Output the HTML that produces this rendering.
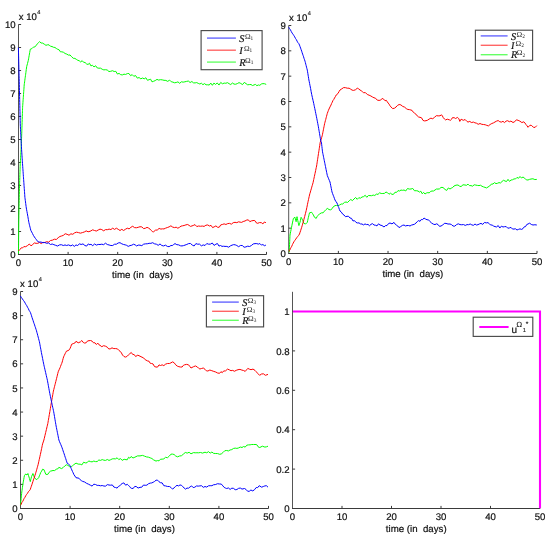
<!DOCTYPE html>
<html><head><meta charset="utf-8"><title>SIR figure</title>
<style>
html,body{margin:0;padding:0;background:#fff;}
svg{display:block;}
text{text-rendering:geometricPrecision;}
text{font-family:"Liberation Sans", Arial, Helvetica, sans-serif;font-size:9.6px;fill:#111;stroke:#111;stroke-width:0.2px;}
text.lg{font-family:"Liberation Serif", "Times New Roman", serif;font-style:italic;font-size:10.3px;}
text.om{font-family:"Liberation Serif", "Times New Roman", serif;font-size:7.6px;stroke-width:0;fill:#222;}
text.sb{font-family:"Liberation Serif", "Times New Roman", serif;font-size:5.3px;stroke-width:0;fill:#222;}
</style></head>
<body>
<svg width="550" height="539" viewBox="0 0 550 539">
<rect width="550" height="539" fill="#fff"/>
<path d="M18.5,24.5 V254.5" stroke="#555" stroke-width="1" fill="none"/>
<path d="M18,254.5 H266.5" stroke="#3a3a3a" stroke-width="1" fill="none"/>
<text x="15.6" y="258.1" text-anchor="end">0</text>
<path d="M18.5,231.5 h2.6" stroke="#3a3a3a" stroke-width="1"/>
<text x="15.6" y="235.1" text-anchor="end">1</text>
<path d="M18.5,208.5 h2.6" stroke="#3a3a3a" stroke-width="1"/>
<text x="15.6" y="212.1" text-anchor="end">2</text>
<path d="M18.5,185.5 h2.6" stroke="#3a3a3a" stroke-width="1"/>
<text x="15.6" y="189.1" text-anchor="end">3</text>
<path d="M18.5,162.5 h2.6" stroke="#3a3a3a" stroke-width="1"/>
<text x="15.6" y="166.1" text-anchor="end">4</text>
<path d="M18.5,139.5 h2.6" stroke="#3a3a3a" stroke-width="1"/>
<text x="15.6" y="143.1" text-anchor="end">5</text>
<path d="M18.5,116.5 h2.6" stroke="#3a3a3a" stroke-width="1"/>
<text x="15.6" y="120.1" text-anchor="end">6</text>
<path d="M18.5,93.5 h2.6" stroke="#3a3a3a" stroke-width="1"/>
<text x="15.6" y="97.1" text-anchor="end">7</text>
<path d="M18.5,70.5 h2.6" stroke="#3a3a3a" stroke-width="1"/>
<text x="15.6" y="74.1" text-anchor="end">8</text>
<path d="M18.5,47.5 h2.6" stroke="#3a3a3a" stroke-width="1"/>
<text x="15.6" y="51.1" text-anchor="end">9</text>
<path d="M18.5,24.5 h2.6" stroke="#3a3a3a" stroke-width="1"/>
<text x="15.6" y="28.1" text-anchor="end">10</text>
<text x="18.5" y="266.3" text-anchor="middle">0</text>
<path d="M68.1,254.5 v-2.6" stroke="#3a3a3a" stroke-width="1"/>
<text x="68.1" y="266.3" text-anchor="middle">10</text>
<path d="M117.7,254.5 v-2.6" stroke="#3a3a3a" stroke-width="1"/>
<text x="117.7" y="266.3" text-anchor="middle">20</text>
<path d="M167.3,254.5 v-2.6" stroke="#3a3a3a" stroke-width="1"/>
<text x="167.3" y="266.3" text-anchor="middle">30</text>
<path d="M216.9,254.5 v-2.6" stroke="#3a3a3a" stroke-width="1"/>
<text x="216.9" y="266.3" text-anchor="middle">40</text>
<path d="M266.5,254.5 v-2.6" stroke="#3a3a3a" stroke-width="1"/>
<text x="266.5" y="266.3" text-anchor="middle">50</text>
<text x="142.5" y="277.7" text-anchor="middle" textLength="60.8" lengthAdjust="spacingAndGlyphs" xml:space="preserve">time (in  days)</text>
<text x="18.7" y="20.3">x 10<tspan font-size="5.6" dy="-6.4" dx="0.4" stroke-width="0.1">4</tspan></text>
<path d="M288.7,25.5 V253.5" stroke="#555" stroke-width="1" fill="none"/>
<path d="M288.2,253.5 H537" stroke="#3a3a3a" stroke-width="1" fill="none"/>
<text x="285.8" y="257.1" text-anchor="end">0</text>
<path d="M288.7,228.17 h2.6" stroke="#3a3a3a" stroke-width="1"/>
<text x="285.8" y="231.77" text-anchor="end">1</text>
<path d="M288.7,202.83 h2.6" stroke="#3a3a3a" stroke-width="1"/>
<text x="285.8" y="206.43" text-anchor="end">2</text>
<path d="M288.7,177.5 h2.6" stroke="#3a3a3a" stroke-width="1"/>
<text x="285.8" y="181.1" text-anchor="end">3</text>
<path d="M288.7,152.17 h2.6" stroke="#3a3a3a" stroke-width="1"/>
<text x="285.8" y="155.77" text-anchor="end">4</text>
<path d="M288.7,126.83 h2.6" stroke="#3a3a3a" stroke-width="1"/>
<text x="285.8" y="130.43" text-anchor="end">5</text>
<path d="M288.7,101.5 h2.6" stroke="#3a3a3a" stroke-width="1"/>
<text x="285.8" y="105.1" text-anchor="end">6</text>
<path d="M288.7,76.17 h2.6" stroke="#3a3a3a" stroke-width="1"/>
<text x="285.8" y="79.77" text-anchor="end">7</text>
<path d="M288.7,50.83 h2.6" stroke="#3a3a3a" stroke-width="1"/>
<text x="285.8" y="54.43" text-anchor="end">8</text>
<path d="M288.7,25.5 h2.6" stroke="#3a3a3a" stroke-width="1"/>
<text x="285.8" y="29.1" text-anchor="end">9</text>
<text x="288.7" y="265.3" text-anchor="middle">0</text>
<path d="M338.36,253.5 v-2.6" stroke="#3a3a3a" stroke-width="1"/>
<text x="338.36" y="265.3" text-anchor="middle">10</text>
<path d="M388.02,253.5 v-2.6" stroke="#3a3a3a" stroke-width="1"/>
<text x="388.02" y="265.3" text-anchor="middle">20</text>
<path d="M437.68,253.5 v-2.6" stroke="#3a3a3a" stroke-width="1"/>
<text x="437.68" y="265.3" text-anchor="middle">30</text>
<path d="M487.34,253.5 v-2.6" stroke="#3a3a3a" stroke-width="1"/>
<text x="487.34" y="265.3" text-anchor="middle">40</text>
<path d="M537,253.5 v-2.6" stroke="#3a3a3a" stroke-width="1"/>
<text x="537" y="265.3" text-anchor="middle">50</text>
<text x="412.85" y="276.7" text-anchor="middle" textLength="60.8" lengthAdjust="spacingAndGlyphs" xml:space="preserve">time (in  days)</text>
<text x="289.1" y="21.3">x 10<tspan font-size="5.6" dy="-6.4" dx="0.4" stroke-width="0.1">4</tspan></text>
<path d="M20.5,291.5 V508.5" stroke="#555" stroke-width="1" fill="none"/>
<path d="M20,508.5 H268.5" stroke="#3a3a3a" stroke-width="1" fill="none"/>
<text x="17.6" y="512.1" text-anchor="end">0</text>
<path d="M20.5,484.39 h2.6" stroke="#3a3a3a" stroke-width="1"/>
<text x="17.6" y="487.99" text-anchor="end">1</text>
<path d="M20.5,460.28 h2.6" stroke="#3a3a3a" stroke-width="1"/>
<text x="17.6" y="463.88" text-anchor="end">2</text>
<path d="M20.5,436.17 h2.6" stroke="#3a3a3a" stroke-width="1"/>
<text x="17.6" y="439.77" text-anchor="end">3</text>
<path d="M20.5,412.06 h2.6" stroke="#3a3a3a" stroke-width="1"/>
<text x="17.6" y="415.66" text-anchor="end">4</text>
<path d="M20.5,387.94 h2.6" stroke="#3a3a3a" stroke-width="1"/>
<text x="17.6" y="391.54" text-anchor="end">5</text>
<path d="M20.5,363.83 h2.6" stroke="#3a3a3a" stroke-width="1"/>
<text x="17.6" y="367.43" text-anchor="end">6</text>
<path d="M20.5,339.72 h2.6" stroke="#3a3a3a" stroke-width="1"/>
<text x="17.6" y="343.32" text-anchor="end">7</text>
<path d="M20.5,315.61 h2.6" stroke="#3a3a3a" stroke-width="1"/>
<text x="17.6" y="319.21" text-anchor="end">8</text>
<path d="M20.5,291.5 h2.6" stroke="#3a3a3a" stroke-width="1"/>
<text x="17.6" y="295.1" text-anchor="end">9</text>
<text x="20.5" y="520.3" text-anchor="middle">0</text>
<path d="M70.1,508.5 v-2.6" stroke="#3a3a3a" stroke-width="1"/>
<text x="70.1" y="520.3" text-anchor="middle">10</text>
<path d="M119.7,508.5 v-2.6" stroke="#3a3a3a" stroke-width="1"/>
<text x="119.7" y="520.3" text-anchor="middle">20</text>
<path d="M169.3,508.5 v-2.6" stroke="#3a3a3a" stroke-width="1"/>
<text x="169.3" y="520.3" text-anchor="middle">30</text>
<path d="M218.9,508.5 v-2.6" stroke="#3a3a3a" stroke-width="1"/>
<text x="218.9" y="520.3" text-anchor="middle">40</text>
<path d="M268.5,508.5 v-2.6" stroke="#3a3a3a" stroke-width="1"/>
<text x="268.5" y="520.3" text-anchor="middle">50</text>
<text x="144.5" y="531.7" text-anchor="middle" textLength="60.8" lengthAdjust="spacingAndGlyphs" xml:space="preserve">time (in  days)</text>
<text x="20.1" y="287.3">x 10<tspan font-size="5.6" dy="-6.4" dx="0.4" stroke-width="0.1">4</tspan></text>
<path d="M292.5,291.8 V508.5" stroke="#555" stroke-width="1" fill="none"/>
<path d="M292,508.5 H540" stroke="#3a3a3a" stroke-width="1" fill="none"/>
<text x="289.6" y="512.1" text-anchor="end">0</text>
<path d="M292.5,469.1 h2.6" stroke="#3a3a3a" stroke-width="1"/>
<text x="289.6" y="472.7" text-anchor="end">0.2</text>
<path d="M292.5,429.7 h2.6" stroke="#3a3a3a" stroke-width="1"/>
<text x="289.6" y="433.3" text-anchor="end">0.4</text>
<path d="M292.5,390.3 h2.6" stroke="#3a3a3a" stroke-width="1"/>
<text x="289.6" y="393.9" text-anchor="end">0.6</text>
<path d="M292.5,350.9 h2.6" stroke="#3a3a3a" stroke-width="1"/>
<text x="289.6" y="354.5" text-anchor="end">0.8</text>
<path d="M292.5,311.5 h2.6" stroke="#3a3a3a" stroke-width="1"/>
<text x="289.6" y="315.1" text-anchor="end">1</text>
<text x="292.5" y="520.3" text-anchor="middle">0</text>
<path d="M342,508.5 v-2.6" stroke="#3a3a3a" stroke-width="1"/>
<text x="342" y="520.3" text-anchor="middle">10</text>
<path d="M391.5,508.5 v-2.6" stroke="#3a3a3a" stroke-width="1"/>
<text x="391.5" y="520.3" text-anchor="middle">20</text>
<path d="M441,508.5 v-2.6" stroke="#3a3a3a" stroke-width="1"/>
<text x="441" y="520.3" text-anchor="middle">30</text>
<path d="M490.5,508.5 v-2.6" stroke="#3a3a3a" stroke-width="1"/>
<text x="490.5" y="520.3" text-anchor="middle">40</text>
<path d="M540,508.5 v-2.6" stroke="#3a3a3a" stroke-width="1"/>
<text x="540" y="520.3" text-anchor="middle">50</text>
<text x="416.25" y="531.7" text-anchor="middle" textLength="60.8" lengthAdjust="spacingAndGlyphs" xml:space="preserve">time (in  days)</text>
<path d="M18.5,253.6 L18.51,252.07 L18.53,250.55 L18.54,249.02 L18.55,247.49 L18.57,245.96 L18.58,244.44 L18.6,242.91 L18.61,241.38 L18.62,239.85 L18.64,238.33 L18.65,236.8 L18.66,235.27 L18.68,233.75 L18.69,232.22 L18.7,230.69 L18.72,229.16 L18.73,227.64 L18.75,226.11 L18.76,224.58 L18.77,223.05 L18.79,221.53 L18.8,220 L18.83,218.5 L18.86,217 L18.89,215.5 L18.92,214 L18.95,212.5 L18.98,211 L19.01,209.5 L19.04,208 L19.07,206.5 L19.1,205 L19.13,203.5 L19.16,202 L19.19,200.5 L19.22,199 L19.25,197.5 L19.28,196 L19.31,194.5 L19.34,193 L19.37,191.5 L19.4,190 L19.45,188.44 L19.5,186.87 L19.55,185.31 L19.6,183.75 L19.65,182.19 L19.7,180.63 L19.75,179.06 L19.8,177.5 L19.85,175.94 L19.9,174.37 L19.95,172.81 L20,171.25 L20.05,169.69 L20.1,168.13 L20.15,166.56 L20.2,165 L20.28,163.46 L20.37,161.92 L20.45,160.39 L20.54,158.84 L20.62,157.31 L20.71,155.77 L20.79,154.23 L20.88,152.69 L20.96,151.16 L21.05,149.61 L21.13,148.07 L21.22,146.54 L21.3,145 L21.36,143.35 L21.43,141.7 L21.49,140.05 L21.55,138.4 L21.61,136.75 L21.68,135.1 L21.74,133.45 L21.8,131.8 L21.85,130.27 L21.9,128.74 L21.95,127.21 L22,125.68 L22.05,124.14 L22.1,122.61 L22.15,121.08 L22.2,119.55 L22.25,118.02 L22.3,116.49 L22.35,114.96 L22.4,113.42 L22.45,111.89 L22.5,110.36 L22.55,108.83 L22.6,107.3 L22.71,105.7 L22.83,104.09 L22.94,102.51 L23.06,100.9 L23.17,99.3 L23.29,97.7 L23.4,96.1 L23.51,94.5 L23.63,92.91 L23.74,91.3 L23.86,89.7 L23.97,88.1 L24.09,86.5 L24.2,84.9 L24.41,83.39 L24.62,81.85 L24.82,80.29 L25.03,78.75 L25.24,77.24 L25.45,75.7 L25.66,74.16 L25.87,72.66 L26.07,71.08 L26.28,69.59 L26.49,68.01 L26.7,66.5 L27.1,65.02 L27.5,63.5 L27.9,61.96 L28.3,60.4 L28.59,58.8 L28.87,57.2 L29.16,55.61 L29.44,53.99 L29.73,52.41 L30.01,50.81 L30.3,49.2 L31.85,48.65 L33.4,47.1 L34.9,46.93 L36.4,45.1 L37.43,43.78 L38.47,42.67 L39.5,41.6 L41.05,43.01 L42.6,43.1 L44.27,44.16 L45.93,45.31 L47.6,44.8 L49.07,44.85 L50.53,46.3 L52,46.5 L53.47,47.28 L54.93,47.47 L56.4,48.5 L57.75,49.32 L59.1,49.81 L60.45,51.85 L61.8,51.8 L63.45,52.25 L65.1,53.51 L66.75,54.09 L68.4,55.1 L70.03,54.97 L71.65,56.74 L73.28,58.3 L74.9,58.4 L76.35,59.35 L77.8,60.31 L79.25,60.78 L80.7,61.97 L82.15,60.65 L83.6,62.3 L85.07,62.49 L86.53,63.91 L88,64.47 L89.47,63.22 L90.93,65.88 L92.4,65.3 L94.03,66.89 L95.65,65.75 L97.28,67.96 L98.9,68.2 L100.55,68.16 L102.2,69.26 L103.85,69.9 L105.5,69.7 L107.24,70.01 L108.98,71.57 L110.72,71.28 L112.46,70.71 L114.2,71.5 L115.83,71.33 L117.45,74.07 L119.08,73.37 L120.7,74.7 L122.35,74.92 L124,74.17 L125.65,74.43 L127.3,73.6 L128.93,73.47 L130.55,75.7 L132.18,74.62 L133.8,76.3 L135.56,75.54 L137.32,78.14 L139.08,77.56 L140.84,78.82 L142.6,78 L144.22,78.82 L145.85,77.75 L147.47,80.3 L149.1,79.7 L150.57,79.2 L152.03,81.83 L153.5,81.3 L155.23,80.59 L156.97,79.36 L158.7,80.1 L160.47,79.66 L162.23,79.87 L164,80.3 L165.87,80.43 L167.73,81.37 L169.6,80.1 L171.25,81.76 L172.9,82.11 L174.55,82.77 L176.2,82.5 L177.94,81.87 L179.68,83.3 L181.42,81.8 L183.16,82.15 L184.9,81.8 L186.64,81.37 L188.38,81.06 L190.12,82.53 L191.86,81.5 L193.6,82.9 L195.16,82.88 L196.71,82.59 L198.27,83.37 L199.83,83.99 L201.39,83.23 L202.94,84.7 L204.5,83.6 L206.07,84.81 L207.64,84.78 L209.21,85.05 L210.79,83.07 L212.36,85.31 L213.93,83.09 L215.5,84.4 L217.24,82.97 L218.98,85.05 L220.72,82.45 L222.46,83.76 L224.2,83.1 L225.84,83.25 L227.47,82.66 L229.11,83.69 L230.75,84.55 L232.39,83.03 L234.03,84.09 L235.66,84.22 L237.3,83.6 L239.04,82.61 L240.78,83.45 L242.52,84.62 L244.26,82.4 L246,83.6 L247.67,84.82 L249.33,84.57 L251,84.5 L252.47,85.54 L253.95,84.98 L255.42,84.42 L256.9,85.7 L258.37,84.95 L259.83,85.35 L261.3,84 L262.93,83.61 L264.57,83.76 L266.2,84.4" stroke="#00ff00" stroke-width="1.0" fill="none" stroke-linejoin="round"/>
<path d="M18.5,251 L20,249.4 L21.27,247.8 L22.53,247.98 L23.8,246.6 L25.7,246.71 L27.6,245.5 L29.3,244.01 L31,245.87 L32.7,244.5 L34.4,242.96 L36.1,243.35 L37.8,243.3 L39.5,242.47 L41.2,243.57 L42.9,242.4 L44.8,242.51 L46.7,241.7 L48.6,242.15 L50.5,240.5 L52.45,240.16 L54.4,239.2 L56.3,239.49 L58.2,237.7 L59.9,236.49 L61.6,235.97 L63.3,235.4 L65.2,233.74 L67.1,234.3 L69,235.23 L70.9,233.8 L72.8,234.27 L74.7,232.8 L76.6,232.17 L78.5,232.6 L80.45,233.17 L82.4,232.6 L84.3,231.98 L86.2,230.9 L88.1,231.78 L90,231.3 L90.9,230.9 L92.7,229.82 L94.5,230.5 L96.35,231.04 L98.2,230 L100,229.11 L101.8,229.6 L103.65,230.8 L105.5,229.6 L107.3,229.7 L109.1,229.1 L110.9,229.57 L112.7,228.2 L114.55,229.4 L116.4,228.2 L118.2,229.32 L120,230.5 L121.8,229.3 L123.6,230.5 L125.45,229.26 L127.3,228.2 L129.1,228.88 L130.9,227.3 L132.7,226.26 L134.5,227.6 L136.35,227.77 L138.2,227.3 L140,226.73 L141.8,226.9 L143.65,228.62 L145.5,228.2 L147,227.35 L148.5,228.04 L150,229.1 L151.2,230.3 L152.4,231.67 L153.6,231.8 L155.45,230.18 L157.3,230 L159.1,228.42 L160.9,229.1 L162.43,228.83 L163.97,228.94 L165.5,228.2 L167.3,227.54 L169.1,226.89 L170.9,225.8 L172.7,227.1 L174.5,227.6 L176.17,227.2 L177.83,228.21 L179.5,227.3 L181.03,226.13 L182.57,225.81 L184.1,225.5 L185.9,224.87 L187.7,224.5 L189.1,225.4 L190.5,226.4 L193.2,225.5 L195,224.61 L196.8,226.58 L198.6,226 L200.43,226.28 L202.27,226.04 L204.1,226.4 L205.9,225.24 L207.7,224.94 L209.5,226 L211.03,225.33 L212.57,227.58 L214.1,226.9 L215.9,225.91 L217.7,227.3 L219.23,227.24 L220.77,224.88 L222.3,224.5 L224.1,223.86 L225.9,224.48 L227.7,223.6 L229.53,223.37 L231.37,224.17 L233.2,222.7 L235,222.31 L236.8,222.65 L238.6,221.8 L240.13,222.15 L241.67,222.36 L243.2,221.5 L245,220.99 L246.8,220 L248.33,219.86 L249.87,221.68 L251.4,220.9 L254.1,220.4 L255.3,221.09 L256.5,223.06 L257.7,223.3 L259.55,222.57 L261.4,222.7 L262.9,223.9 L264.4,221.97 L265.9,222.7" stroke="#ff0000" stroke-width="1.0" fill="none" stroke-linejoin="round"/>
<path d="M18.4,47.7 L18.44,49.24 L18.48,50.78 L18.51,52.31 L18.55,53.85 L18.59,55.39 L18.63,56.93 L18.67,58.47 L18.7,60 L18.74,61.54 L18.78,63.08 L18.82,64.62 L18.86,66.16 L18.9,67.7 L18.93,69.23 L18.97,70.77 L19.01,72.31 L19.05,73.85 L19.09,75.38 L19.12,76.92 L19.16,78.46 L19.2,80 L19.24,81.5 L19.27,83 L19.31,84.5 L19.35,86 L19.38,87.5 L19.42,89 L19.46,90.5 L19.49,92 L19.53,93.5 L19.57,95 L19.6,96.5 L19.64,98 L19.68,99.5 L19.71,101 L19.75,102.5 L19.79,104 L19.82,105.5 L19.86,107 L19.9,108.5 L19.93,110 L19.97,111.5 L20.01,113 L20.04,114.5 L20.08,116 L20.12,117.5 L20.15,119 L20.19,120.5 L20.23,122 L20.26,123.5 L20.3,125 L20.38,126.54 L20.45,128.08 L20.53,129.62 L20.61,131.15 L20.68,132.69 L20.76,134.23 L20.84,135.77 L20.92,137.31 L20.99,138.85 L21.07,140.38 L21.15,141.92 L21.22,143.46 L21.3,145 L21.4,146.53 L21.5,148.05 L21.6,149.58 L21.7,151.1 L21.8,152.63 L21.9,154.16 L22,155.69 L22.1,157.22 L22.2,158.75 L22.3,160.27 L22.4,161.8 L22.51,163.42 L22.62,165.05 L22.73,166.67 L22.84,168.29 L22.96,169.91 L23.07,171.53 L23.18,173.16 L23.29,174.78 L23.4,176.4 L23.51,177.9 L23.61,179.39 L23.72,180.9 L23.83,182.4 L23.94,183.9 L24.04,185.4 L24.15,186.9 L24.26,188.4 L24.36,189.9 L24.47,191.4 L24.58,192.91 L24.69,194.4 L24.79,195.91 L24.9,197.4 L25.1,198.93 L25.3,200.41 L25.5,201.94 L25.7,203.46 L25.9,204.98 L26.1,206.51 L26.3,208 L26.62,209.79 L26.95,211.51 L27.28,213.28 L27.6,215 L27.86,216.51 L28.12,218.06 L28.38,219.53 L28.64,221.11 L28.9,222.6 L29.28,224.18 L29.66,225.75 L30.04,227.18 L30.42,228.77 L30.8,230.3 L31.67,231.94 L32.53,233.57 L33.4,235.4 L34.43,236.99 L35.47,238.5 L36.5,239.8 L37.8,241.62 L39.1,242.1 L41,242.05 L42.9,242.7 L44.8,242.5 L46.7,243.3 L48.6,242.94 L50.5,244.5 L52.2,244.01 L53.9,244.69 L55.6,245.3 L57.55,246.02 L59.5,244.9 L61.4,244.72 L63.3,245.5 L65,244.94 L66.7,245.5 L68.4,244.9 L70.9,245.9 L72.6,244.91 L74.3,246.39 L76,244.9 L77.7,245.61 L79.4,243.76 L81.1,244.5 L83,243.88 L84.9,245.5 L86.6,246.1 L88.3,243.92 L90,244.9 L90.9,244.2 L92.73,245.67 L94.57,243.99 L96.4,245.1 L98.2,244.45 L100,244.52 L101.8,244.2 L103.63,244.67 L105.47,243.2 L107.3,244.5 L109.1,244.98 L110.9,245.52 L112.7,245.5 L114.55,244.23 L116.4,244.2 L118.2,242.96 L120,242.7 L121.8,243.82 L123.6,244.5 L125.13,244.83 L126.67,245.33 L128.2,246.4 L130,245.59 L131.8,245.19 L133.6,244.2 L135.13,244.87 L136.67,245.96 L138.2,245.1 L140,245.17 L141.8,245.67 L143.6,244.2 L145.43,243.85 L147.27,243.77 L149.1,243.3 L150.9,243.33 L152.7,242.7 L154.55,243.83 L156.4,244.2 L158.2,245.33 L160,243.93 L161.8,245.5 L163.63,245.93 L165.47,245.15 L167.3,246.4 L169.1,246.68 L170.9,245.5 L172.27,245.58 L173.63,244.53 L175,243.6 L176.83,244.68 L178.67,244.86 L180.5,245.8 L182,245.95 L183.5,245.6 L185,245.1 L186.8,244.44 L188.6,243.6 L190.45,243.48 L192.3,245.1 L194.1,245.97 L195.9,243.61 L197.7,244.2 L199.53,244.14 L201.37,245.85 L203.2,244.9 L205,245.51 L206.8,243.53 L208.6,244.2 L210.43,244.08 L212.25,243 L214.07,245.4 L215.9,244.2 L217.43,243.52 L218.97,246.08 L220.5,245.5 L222,246.36 L223.5,246.22 L225,246.4 L226.83,246.43 L228.67,247.19 L230.5,245.8 L232.07,245.13 L233.65,244.64 L235.23,244.83 L236.8,245.5 L238.63,246.7 L240.47,245.47 L242.3,245.5 L244.1,247.24 L245.9,246.9 L247.73,246.16 L249.57,246.51 L251.4,245.5 L253.2,243.96 L255,243.61 L256.8,243.6 L258.33,244.14 L259.87,243.52 L261.4,245.1 L262.9,244.53 L264.4,245.71 L265.9,245.1" stroke="#0000ff" stroke-width="1.0" fill="none" stroke-linejoin="round"/>
<path d="M289.2,252.3 L289.27,250.74 L289.35,249.17 L289.42,247.61 L289.49,246.05 L289.56,244.48 L289.64,242.92 L289.71,241.35 L289.78,239.79 L289.85,238.23 L289.93,236.67 L290,235.1 L290.37,233.24 L290.73,231.37 L291.1,229.5 L291.47,227.68 L291.83,225.8 L292.2,224 L292.6,222.08 L293,220.21 L293.4,218.4 L295,217.3 L295.37,218.74 L295.73,220.29 L296.1,221.7 L296.4,220.02 L296.7,218.38 L297,216.7 L297.4,218.64 L297.8,220.6 L298.17,222.3 L298.53,223.91 L298.9,225.6 L299.45,223.88 L300,222.3 L300.37,220.69 L300.73,218.92 L301.1,217.3 L301.95,218.74 L302.8,220.6 L303.35,222 L303.9,223.4 L305.6,224 L307.3,222.3 L307.67,220.68 L308.03,218.98 L308.4,217.3 L308.77,215.87 L309.13,214.29 L309.5,212.8 L311.7,212.3 L312.55,213.67 L313.4,215 L314.5,217.3 L316.2,218.4 L317.05,216.68 L317.9,215.6 L319.5,213.9 L321.7,212.8 L323.1,212.83 L324.5,211.1 L325.9,209.71 L327.3,208.4 L329,209.5 L330.7,210 L331.8,208.87 L332.9,207.2 L335,205.6 L336.5,205.4 L338,205.6 L339.6,204.99 L341.2,204.02 L342.8,203.99 L344.4,202.41 L346,202 L347.6,202.45 L349.2,200.8 L350.8,199.45 L352.4,200.65 L354,199 L355.6,197.47 L357.2,199.33 L358.8,197.69 L360.4,198.19 L362,197 L363.6,196.63 L365.2,195.28 L366.8,197.32 L368.4,195.5 L370,195.6 L371.6,195.71 L373.2,195.07 L374.8,195.49 L376.4,194.1 L378,194.4 L379.6,192.82 L381.2,193.48 L382.8,193.51 L384.4,193.39 L386,192 L387.5,192.71 L389,194.23 L390.5,193.19 L392,194.4 L393.5,194.3 L395,192.23 L396.5,192.41 L398,190.6 L399.5,191 L401,190.04 L402.5,190.34 L404,190 L405.75,190.93 L407.5,188.5 L409.25,189.09 L411,189 L412.75,188.46 L414.5,190.78 L416.25,190.7 L418,191 L419.4,192.1 L420.8,191.19 L422.2,193.73 L423.6,192.39 L425,194 L426.4,193.04 L427.8,192.62 L429.2,192.92 L430.6,191.41 L432,191 L433.5,191.03 L435,190 L436.5,189 L438,189.1 L439.5,188.85 L441,187.4 L443,187.5 L445,189.4 L446.67,190.46 L448.33,187.94 L450,189 L451.33,188.15 L452.67,187.5 L454,186 L456,185.16 L458,185 L459.5,186.1 L461,186.6 L463,184.77 L465,185 L466.5,185.3 L468,184.11 L469.5,185.63 L471,185.6 L472.6,186.17 L474.2,184.77 L475.8,185.1 L477.4,185.42 L479,185.6 L480.5,185.24 L482,186.28 L483.5,186.88 L485,187.37 L486.5,187.94 L488,187 L489.67,186.01 L491.33,184.12 L493,184 L494.5,182.63 L496,183.63 L497.5,183.28 L499,182.6 L500.5,182.98 L502,181.5 L503.5,180.28 L505,181 L506.5,181.56 L508,179.33 L509.5,181.37 L511,180 L512.5,179.77 L514,178.89 L515.5,178.97 L517,177.4 L518.5,178.29 L520,176.49 L521.5,178 L523,177 L524.67,178.2 L526.33,179.88 L528,180 L529.5,179.38 L531,179 L532.93,178.77 L534.87,179.57 L536.8,179.4" stroke="#00ff00" stroke-width="1.0" fill="none" stroke-linejoin="round"/>
<path d="M289,251.5 L289.7,250.19 L290.4,248.8 L291.1,247.31 L291.8,246.2 L292.5,244.41 L293.2,243.14 L293.9,241.8 L294.83,240.41 L295.77,239.14 L296.7,237.74 L297.63,236.58 L298.57,235.5 L299.5,234 L300.05,232.22 L300.6,230.73 L301.15,228.96 L301.7,227.3 L302.14,225.81 L302.58,224.14 L303.02,222.61 L303.46,221.12 L303.9,219.5 L304.28,217.96 L304.67,216.58 L305.05,214.98 L305.43,213.64 L305.82,212.03 L306.2,210.6 L306.52,209 L306.84,207.52 L307.16,205.97 L307.48,204.31 L307.8,202.8 L308.14,201.26 L308.48,199.67 L308.82,198.1 L309.16,196.61 L309.5,195 L309.95,193.35 L310.4,191.97 L310.85,190.22 L311.3,188.84 L311.75,187.12 L312.2,185.66 L312.65,184.14 L313.1,182.5 L313.42,180.95 L313.74,179.45 L314.05,178.05 L314.37,176.51 L314.69,174.96 L315.01,173.55 L315.33,172 L315.65,170.52 L315.96,168.95 L316.28,167.51 L316.6,166 L316.84,164.44 L317.08,162.87 L317.32,161.25 L317.56,159.72 L317.8,158.14 L318.04,156.59 L318.28,154.96 L318.52,153.42 L318.76,151.84 L319,150.28 L319.24,148.68 L319.48,147.15 L319.72,145.52 L319.96,143.99 L320.2,142.4 L320.7,140.78 L321.2,139.04 L321.7,137.35 L322.2,135.8 L322.5,134.28 L322.8,132.76 L323.1,131.28 L323.4,129.78 L323.7,128.19 L324,126.74 L324.3,125.23 L324.6,123.7 L324.99,122.2 L325.37,120.68 L325.76,119.36 L326.14,117.81 L326.53,116.35 L326.91,114.85 L327.3,113.4 L327.87,111.87 L328.43,110.37 L329,109 L330,106.92 L331,105 L331.63,103.39 L332.27,102.21 L332.9,100.6 L333.7,99.58 L334.5,98 L335.35,96.68 L336.2,95 L338,93.5 L339,91.6 L340,90 L341.8,88.83 L343.6,87.6 L345.43,87.67 L347.27,88.19 L349.1,88.2 L350.6,89.13 L352.1,90.13 L353.6,90.4 L355.45,89.78 L357.3,88.2 L358.65,88.85 L360,90 L361.2,90.72 L362.4,91.68 L363.6,92.7 L365.45,92.63 L367.3,94.5 L369.1,95.2 L370.9,96 L372.43,96.96 L373.97,97.77 L375.5,98.2 L377.3,100.17 L379.1,100.4 L380.6,100.18 L382.1,98.43 L383.6,99.1 L385,100.74 L386.4,100.4 L387.3,101.87 L388.2,103.09 L389.1,104.18 L390,105.8 L390.9,106.9 L392.7,108.6 L394.5,108.2 L396.03,107 L397.57,105.4 L399.1,104.5 L400.9,104.9 L402.7,106.4 L404.55,107.11 L406.4,108.7 L407.9,109.49 L409.4,109.61 L410.9,110 L412.1,110.45 L413.3,112.25 L414.5,113.1 L415.88,114.14 L417.25,115.91 L418.62,117.01 L420,117.3 L421.5,117.77 L423,120.43 L424.5,120.9 L426.03,120.73 L427.57,120.19 L429.1,119.1 L430.9,118.16 L432.7,118.74 L434.5,117.3 L436.33,115.68 L438.17,115.86 L440,115.8 L441.5,114.8 L442.4,115.96 L443.3,117.7 L444.4,118.96 L445.5,119.9 L447.3,119.2 L449.5,119.9 L450.5,120.3 L451.45,119.42 L452.4,117.7 L454.2,117.7 L455.6,118.5 L457.5,117.4 L458.9,118.8 L459.8,121.4 L461.1,119.2 L463.3,120.3 L465.1,119.5 L466.9,121.4 L468,122.1 L469.8,121.4 L471.3,122.5 L473.5,122.1 L474.9,122.8 L476.55,123.22 L478.2,124.3 L480,123.5 L481.8,124.32 L483.6,124.5 L485.2,124.75 L486.8,125.36 L488.4,125.9 L490.1,124.51 L491.8,123.5 L493.4,122.91 L495,121.98 L496.6,121.1 L498.2,120.56 L499.8,121.76 L501.4,122.1 L502.97,121.32 L504.53,122.58 L506.1,121.1 L507.7,120.71 L509.3,121.75 L510.9,121.1 L513,122.5 L514.7,121.72 L516.4,119.8 L518.1,120.31 L519.8,121.1 L521.85,122.55 L523.9,121.8 L524.92,122.94 L525.95,124.52 L526.98,125.72 L528,127.3 L530,125.2 L531.7,125.54 L533.4,127.3 L535.1,127.41 L536.8,125.6" stroke="#ff0000" stroke-width="1.0" fill="none" stroke-linejoin="round"/>
<path d="M288.7,27.2 L289.57,28.68 L290.43,29.82 L291.3,31.57 L292.17,33.13 L293.03,34.24 L293.9,35.6 L294.7,36.88 L295.5,38.46 L296.3,39.57 L297.1,41.16 L297.9,42.64 L298.7,43.43 L299.5,45.1 L300.05,46.64 L300.6,48.09 L301.15,49.67 L301.7,51.2 L302.17,52.75 L302.64,54.07 L303.11,55.51 L303.59,56.8 L304.06,58.46 L304.53,59.74 L305,61.2 L305.38,62.62 L305.77,64.19 L306.15,65.58 L306.53,67.16 L306.92,68.63 L307.3,70.1 L307.57,71.76 L307.83,73.38 L308.1,75.08 L308.37,76.67 L308.63,78.32 L308.9,80 L309.25,81.72 L309.6,83.48 L309.95,85.25 L310.3,87 L310.58,88.46 L310.86,90.01 L311.14,91.54 L311.42,93.01 L311.7,94.5 L312.04,96.01 L312.38,97.49 L312.72,99 L313.06,100.53 L313.4,102 L313.74,103.55 L314.08,105.22 L314.42,106.76 L314.76,108.44 L315.1,110 L315.44,111.72 L315.78,113.45 L316.12,115.05 L316.46,116.78 L316.8,118.5 L317.12,120.12 L317.44,121.78 L317.76,123.51 L318.08,125.11 L318.4,126.8 L318.67,128.43 L318.95,130.12 L319.23,131.72 L319.5,133.4 L319.77,135.06 L320.05,136.73 L320.33,138.38 L320.6,140 L321.05,141.5 L321.5,143 L321.7,144.78 L321.9,146.53 L322.1,148.27 L322.3,150.05 L322.5,151.8 L322.8,153.28 L323.1,154.73 L323.4,156.18 L323.7,157.7 L324,159.13 L324.3,160.7 L324.6,162.13 L324.9,163.6 L325.2,165.13 L325.5,166.59 L325.8,168.02 L326.1,169.6 L326.4,171.05 L326.7,172.57 L327,173.97 L327.3,175.5 L327.98,177.13 L328.65,178.77 L329.32,180.39 L330,182 L330.33,183.62 L330.67,185.31 L331,186.96 L331.33,188.66 L331.67,190.31 L332,192 L332.6,193.61 L333.2,195.2 L333.8,196.72 L334.4,198.38 L335,200 L336,201.61 L337,203 L337.6,204.57 L338.2,206.35 L338.8,207.68 L339.4,209.51 L340,211 L341.33,212.09 L342.67,214.12 L344,215 L345.5,216.71 L347,216.31 L348.5,216.29 L350,218 L351.5,218.35 L353,220.98 L354.5,220.63 L356,222.4 L357.5,222.97 L359,222.86 L360.5,223.94 L362,224 L363.5,224.92 L365,223.92 L366.5,224.59 L368,224.4 L369.5,225.74 L371,224.31 L372.5,223.66 L374,225 L375.5,225.24 L377,225.88 L378.5,223.8 L380,225 L382,225.55 L384,227 L385.5,225.62 L387,225.56 L388.5,223.58 L390,223 L392,223.87 L394,222.4 L395.25,224.28 L396.5,225.17 L397.75,225.99 L399,227.6 L400.67,226.6 L402.33,225.43 L404,225 L405.5,225.94 L407,225.54 L408.5,225.5 L410,226 L411.5,225.08 L413,224.71 L414.5,224.22 L416,223 L417.33,221.56 L418.67,220.57 L420,221.36 L421.33,219.44 L422.67,219.63 L424,218 L425.5,218.99 L427,219.79 L428.5,219.82 L430,221.6 L431.67,223.09 L433.33,224.14 L435,224.6 L436.5,223.82 L438,224.5 L439.5,226.37 L441,226 L442.67,225.11 L444.33,223.35 L446,223.4 L448,224.02 L450,224 L451.5,224.6 L453,226 L454.75,226.17 L456.5,224.63 L458.25,223.8 L460,224.6 L461.75,224.78 L463.5,224.55 L465.25,225.42 L467,224.6 L468.6,224.69 L470.2,224.01 L471.8,224.87 L473.4,225.31 L475,224 L476.5,225.04 L478,224.65 L479.5,223.92 L481,223.4 L482.75,224.38 L484.5,222.43 L486.25,222.9 L488,222.6 L489.4,223.98 L490.8,224.91 L492.2,225.11 L493.6,226.05 L495,226.6 L496.6,226.94 L498.2,225.56 L499.8,228.04 L501.4,226.13 L503,227 L504.6,226.66 L506.2,226.57 L507.8,228.21 L509.4,227.93 L511,227.4 L512.5,229.06 L514,229.02 L515.5,228.8 L517,230 L518.5,229.38 L520,228.85 L521.5,229.4 L523,228.6 L524.25,226.8 L525.5,226.64 L526.75,224.5 L528,224 L529.67,223.18 L531.33,224.47 L533,225 L534.9,224.76 L536.8,225" stroke="#0000ff" stroke-width="1.0" fill="none" stroke-linejoin="round"/>
<path d="M20.5,505.2 L20.66,503.54 L20.82,501.88 L20.99,500.21 L21.15,498.54 L21.31,496.89 L21.48,495.22 L21.64,493.56 L21.8,491.9 L22.02,490.38 L22.23,488.89 L22.45,487.38 L22.67,485.88 L22.88,484.42 L23.1,482.9 L23.43,481.1 L23.75,479.27 L24.07,477.46 L24.4,475.7 L25.7,474 L27,475 L27.9,473.5 L28.45,475.34 L29,477 L29.43,478.49 L29.87,480.15 L30.3,481.6 L30.73,479.8 L31.17,478.14 L31.6,476.4 L32.25,475 L32.9,473.5 L33.55,475.12 L34.2,477 L35.5,479 L36.8,479.6 L38.7,477.7 L39.37,475.81 L40.03,474.39 L40.7,472.5 L41.65,471.15 L42.6,469.2 L43.9,469.6 L44.57,471.16 L45.23,472.95 L45.9,474.4 L47.8,474.4 L49.1,472.33 L50.4,471.2 L53,470.5 L54.65,470.58 L56.3,469.2 L57.6,469.03 L58.9,467.3 L61.5,468.6 L63.1,467.62 L64.7,466 L66.3,464.79 L67.9,465.3 L69.55,466.66 L71.2,466.6 L72.5,465.76 L73.8,464.7 L76,463.1 L78.1,464.09 L80.2,464.2 L81.9,464.89 L83.6,462.21 L85.3,462.9 L87,462.72 L88.7,460.91 L90.4,461.6 L92.1,461.86 L93.8,461.06 L95.5,461.6 L97.17,461.58 L98.83,459.98 L100.5,460.4 L102.2,459.57 L103.9,460.2 L105.6,460.4 L107.3,459.47 L109,460.43 L110.7,459.7 L112.3,458.86 L113.9,458.76 L115.5,458.88 L117.1,457.8 L118.8,459.6 L120.5,458.58 L122.2,460.4 L124.1,459.27 L126,459.7 L127.28,459.76 L128.55,457.25 L129.82,458.16 L131.1,456.5 L133,458.01 L134.9,457.2 L137.5,455.9 L140,455.9 L142.6,455.4 L144.55,456.18 L146.5,456.9 L148.4,457.16 L150.3,457.9 L151.9,458.51 L153.5,459.8 L156,461.1 L157.5,460.57 L159,460.85 L160.5,459.2 L162.17,459.16 L163.83,458.87 L165.5,457.3 L167.45,457.73 L169.4,456 L170.95,454.18 L172.5,454.1 L174.1,454.51 L175.7,456 L177.6,456.83 L179.5,456 L181.45,455.75 L183.4,454.1 L185.3,452.48 L187.2,453.1 L189.1,452.29 L191,453.8 L193.5,452.6 L195.2,452.8 L196.9,452.74 L198.6,452.8 L200.55,452.47 L202.5,453.1 L205,452.2 L206.73,452.79 L208.47,451.67 L210.2,453.1 L211.9,452.04 L213.6,453.35 L215.3,453.5 L217.5,453.56 L219.7,454.3 L221.3,453.91 L222.9,452.6 L224.8,450.7 L226.7,450.5 L228.4,450.94 L230.1,449.98 L231.8,449.6 L233.5,448.45 L235.2,448.14 L236.9,448.4 L238.6,447.91 L240.3,447.04 L242,447.5 L243.6,446.5 L245.2,447.1 L246.8,445.19 L248.4,444.9 L250.1,444.83 L251.8,444.47 L253.5,444.5 L256,444.5 L257.27,445.17 L258.53,447.24 L259.8,447.5 L262.4,446.2 L264.9,447.1 L266.45,446.81 L268,446.2" stroke="#00ff00" stroke-width="1.0" fill="none" stroke-linejoin="round"/>
<path d="M20.5,505.2 L21.24,504.08 L21.99,502.23 L22.73,501.4 L23.47,499.83 L24.21,498.33 L24.96,497.3 L25.7,495.8 L26.62,494.4 L27.54,493.28 L28.46,491.55 L29.38,490.79 L30.3,489.4 L30.82,487.74 L31.34,486.28 L31.86,484.79 L32.38,483.1 L32.9,481.6 L33.42,479.92 L33.94,478.4 L34.46,477.04 L34.98,475.35 L35.5,473.8 L35.93,472.2 L36.37,470.85 L36.8,469.24 L37.23,467.78 L37.67,466.2 L38.1,464.7 L38.47,462.98 L38.84,461.33 L39.21,459.63 L39.59,458.07 L39.96,456.29 L40.33,454.65 L40.7,453 L41.02,451.48 L41.33,449.92 L41.65,448.45 L41.97,446.91 L42.28,445.4 L42.6,443.9 L43.25,441.98 L43.9,440 L44.25,438.52 L44.61,437.02 L44.96,435.54 L45.32,433.97 L45.67,432.54 L46.03,431.02 L46.38,429.61 L46.74,428.01 L47.09,426.57 L47.45,425.08 L47.8,423.6 L48.06,422.11 L48.31,420.55 L48.57,419.09 L48.83,417.51 L49.09,415.99 L49.34,414.55 L49.6,413 L49.86,411.5 L50.11,409.97 L50.37,408.47 L50.63,406.91 L50.89,405.46 L51.14,403.89 L51.4,402.4 L51.69,400.78 L51.97,399.13 L52.26,397.53 L52.54,395.98 L52.83,394.31 L53.11,392.71 L53.4,391.1 L53.8,389.47 L54.2,387.88 L54.6,386.31 L55,384.7 L55.4,383.17 L55.8,381.5 L56.2,379.95 L56.6,378.34 L57,376.71 L57.4,375.07 L57.8,373.41 L58.2,371.8 L59.1,369.77 L60,367.8 L60.55,366.37 L61.1,364.82 L61.65,363.6 L62.2,362 L62.67,360.27 L63.13,358.52 L63.6,356.9 L64.33,355.35 L65.05,353.84 L65.78,352.4 L66.5,351.1 L68.7,350.4 L70.2,348.2 L70.9,346.39 L71.6,344.3 L73.8,343.4 L74.9,342.98 L76,341.3 L78.2,342.8 L80.4,341.9 L81.8,340.5 L83.25,342.47 L84.7,343.1 L86.15,342.76 L87.6,340.9 L90.5,340.5 L92,341.09 L93.5,342.8 L94.95,342.76 L96.4,344.5 L97.8,343.1 L98.9,344.72 L100,345.3 L101.8,346.69 L103.6,345.7 L105.45,346.18 L107.3,347.2 L108.75,348.94 L110.2,348.9 L112,347.85 L113.8,348.6 L115.65,348.57 L117.5,348.9 L118.95,350.47 L120.4,351.5 L121.45,352.93 L122.5,355 L123.97,356.52 L125.43,357.08 L126.9,356.5 L128.37,354.95 L129.83,353.66 L131.3,352.5 L132.73,354.48 L134.17,354.52 L135.6,356.5 L137.8,355.16 L140,356.2 L142,357.2 L143.6,357.91 L145.2,359.7 L147.7,361 L148.97,361.18 L150.23,363.29 L151.5,363.5 L153,363.92 L154.5,366.58 L156,367 L157.5,367.11 L159,364.92 L160.5,365.5 L162.17,364.85 L163.83,365.62 L165.5,364.2 L167.45,363.49 L169.4,363.5 L170.95,362.86 L172.5,361.9 L174.1,362.69 L175.7,364.8 L177.3,366.12 L178.9,366.7 L180.5,367.03 L182.1,367 L183.35,365.37 L184.6,364.8 L186.55,364.38 L188.5,364.8 L189.75,366.35 L191,368 L193.5,366.7 L195.45,365.95 L197.4,367 L198.65,368.26 L199.9,369 L201.6,368.47 L203.3,368 L205,369.3 L206.45,370.89 L207.9,371 L209.85,370.04 L211.8,370.7 L213.75,371.4 L215.7,372 L217.65,373.02 L219.6,373.3 L220.93,371.67 L222.27,372.67 L223.6,371 L225.55,370.89 L227.5,369.1 L229.23,369.81 L230.97,370.69 L232.7,370.4 L234.47,371.25 L236.23,370.33 L238,369.7 L239.95,369.4 L241.9,370.1 L243.55,370.49 L245.2,371.4 L246.5,369.9 L247.8,368.4 L249.4,369.18 L251,369.7 L253,369.08 L255,370.4 L256.3,371.77 L257.6,373.3 L259.6,375.3 L261.5,374 L263.45,373.82 L265.4,375.3 L268,374.4" stroke="#ff0000" stroke-width="1.0" fill="none" stroke-linejoin="round"/>
<path d="M20.3,295.9 L21.35,297.4 L22.4,298.98 L23.45,300.43 L24.5,301.9 L25.25,303.27 L26,304.63 L26.75,305.67 L27.5,307.25 L28.25,308.37 L29,310.23 L29.75,311.33 L30.5,312.7 L31.01,314.19 L31.53,315.79 L32.04,317.49 L32.56,319.04 L33.07,320.44 L33.59,322.16 L34.1,323.6 L34.58,324.92 L35.06,326.48 L35.54,327.84 L36.02,329.34 L36.5,330.8 L36.91,332.44 L37.33,333.85 L37.74,335.5 L38.16,337.04 L38.57,338.58 L38.99,340.2 L39.4,341.7 L39.69,343.2 L39.97,344.8 L40.26,346.31 L40.54,347.89 L40.83,349.37 L41.11,350.92 L41.4,352.5 L41.7,354.05 L42,355.52 L42.3,357.04 L42.6,358.5 L42.9,360.07 L43.2,361.55 L43.5,363.05 L43.8,364.6 L44.16,366.21 L44.52,367.75 L44.88,369.31 L45.24,370.9 L45.6,372.41 L45.96,374.04 L46.32,375.59 L46.68,377.19 L47.04,378.72 L47.4,380.3 L47.7,381.95 L48,383.58 L48.3,385.29 L48.6,386.9 L48.9,388.56 L49.2,390.24 L49.5,391.88 L49.8,393.5 L50.12,395.08 L50.44,396.6 L50.76,398.17 L51.08,399.69 L51.4,401.2 L51.73,402.66 L52.06,404.21 L52.39,405.76 L52.71,407.27 L53.04,408.72 L53.37,410.29 L53.7,411.8 L53.97,413.38 L54.23,414.96 L54.5,416.52 L54.77,418.08 L55.03,419.72 L55.3,421.29 L55.57,422.83 L55.83,424.45 L56.1,426 L56.41,427.58 L56.72,429.12 L57.03,430.64 L57.34,432.25 L57.66,433.8 L57.97,435.29 L58.28,436.94 L58.59,438.49 L58.9,440 L59.54,441.73 L60.18,443.16 L60.82,444.62 L61.46,446.18 L62.1,447.8 L62.62,449.39 L63.14,450.91 L63.66,452.55 L64.18,453.92 L64.7,455.6 L65.22,457.28 L65.74,458.68 L66.26,460.36 L66.78,461.86 L67.3,463.4 L68.6,464.18 L69.9,465.3 L70.53,466.73 L71.17,468.43 L71.8,469.9 L72.47,471.46 L73.13,472.75 L73.8,474.4 L74.9,476.03 L76,477.7 L78.9,478.2 L80.17,479.72 L81.43,480.69 L82.7,481.4 L84.6,481.99 L86.5,483.3 L88.45,484.16 L90.4,485.2 L92.1,486.1 L93.8,484.2 L95.5,484.5 L97.17,485.38 L98.83,485.38 L100.5,485.8 L102.2,485.53 L103.9,486.04 L105.6,486.1 L107.3,484.64 L109,485.02 L110.7,485.2 L112.3,484.93 L113.9,487.08 L115.5,487.49 L117.1,488.1 L118.38,486.47 L119.65,485.94 L120.92,484.44 L122.2,483.5 L123.9,482.88 L125.6,485.2 L127.3,484.3 L128.4,485.46 L129.5,486.3 L130.6,487.85 L131.7,488.4 L133.2,488.44 L134.7,486.46 L136.2,486.5 L138.1,488.05 L140,487.3 L141.73,487.22 L143.47,485.03 L145.2,485.3 L146.9,485.13 L148.6,483.66 L150.3,483.1 L151.73,482.93 L153.15,482.28 L154.57,481.48 L156,480.2 L157.5,480.12 L159,481.72 L160.5,482.7 L162.17,482.92 L163.83,485.68 L165.5,485.9 L167.45,486.46 L169.4,486.5 L170.95,487.44 L172.5,489.1 L174,487.96 L175.5,486.42 L177,485.3 L178.5,485.91 L180,484.96 L181.5,485.3 L182.75,486.69 L184,487.8 L185.5,489.12 L187,488.05 L188.5,488.2 L190.05,486.91 L191.6,485.9 L193.2,487.58 L194.8,487.2 L196.5,485.95 L198.2,486.14 L199.9,485.9 L201.6,485.72 L203.3,487.39 L205,486.5 L206.73,487.08 L208.47,485.8 L210.2,485.7 L211.9,485.71 L213.6,484.75 L215.3,484.6 L217.5,483.72 L219.7,484 L221.3,484.06 L222.9,485.9 L224.17,487.38 L225.43,488.06 L226.7,488.5 L228.4,487.94 L230.1,489.43 L231.8,488.2 L233.5,488.35 L235.2,489.73 L236.9,489.5 L238.6,488.33 L240.3,488.04 L242,489.1 L244.5,488.5 L246.1,489.5 L247.7,491.3 L249.3,491.26 L250.9,490 L252.8,490.93 L254.7,489.5 L256.2,487.53 L257.7,487.62 L259.2,485.7 L261.7,487.2 L263.3,486.5 L264.9,485.9 L266.45,485.73 L268,487.2" stroke="#0000ff" stroke-width="1.0" fill="none" stroke-linejoin="round"/>
<path d="M292.9,311.5 H540 V508.3" stroke="#ff00ff" stroke-width="2.1" fill="none"/>
<rect x="201.1" y="30.6" width="61" height="39.1" fill="#fff" stroke="#4a4a4a" stroke-width="1.15"/>
<path d="M207,38.1 H235.9" stroke="#0000ff" stroke-width="1.4" opacity="0.6"/>
<text class="lg" x="239.3" y="41.8">S</text>
<text class="om" x="244.9" y="38.7">&#937;</text>
<text class="sb" x="250.6" y="39.9">1</text>
<path d="M207,50.2 H235.9" stroke="#ff0000" stroke-width="1.4" opacity="0.6"/>
<text class="lg" x="239.3" y="53.9">I</text>
<text class="om" x="243.9" y="50.8">&#937;</text>
<text class="sb" x="249.6" y="52">1</text>
<path d="M207,62.1 H235.9" stroke="#00ff00" stroke-width="1.4" opacity="0.6"/>
<text class="lg" x="239.3" y="65.8">R</text>
<text class="om" x="245.1" y="62.7">&#937;</text>
<text class="sb" x="250.8" y="63.9">1</text>
<rect x="475.4" y="30.2" width="57.2" height="30.1" fill="#fff" stroke="#4a4a4a" stroke-width="1.15"/>
<path d="M480.7,35.9 H507.6" stroke="#0000ff" stroke-width="1.4" opacity="0.6"/>
<text class="lg" x="511" y="39.6">S</text>
<text class="om" x="516.6" y="36.5">&#937;</text>
<text class="sb" x="522.3" y="37.7">2</text>
<path d="M480.7,45.3 H507.6" stroke="#ff0000" stroke-width="1.4" opacity="0.6"/>
<text class="lg" x="511" y="49">I</text>
<text class="om" x="515.6" y="45.9">&#937;</text>
<text class="sb" x="521.3" y="47.1">2</text>
<path d="M480.7,54.7 H507.6" stroke="#00ff00" stroke-width="1.4" opacity="0.6"/>
<text class="lg" x="511" y="58.4">R</text>
<text class="om" x="516.8" y="55.3">&#937;</text>
<text class="sb" x="522.5" y="56.5">2</text>
<rect x="206.4" y="295.7" width="57.2" height="31.2" fill="#fff" stroke="#4a4a4a" stroke-width="1.15"/>
<path d="M212.1,302.1 H238.8" stroke="#0000ff" stroke-width="1.4" opacity="0.6"/>
<text class="lg" x="242.2" y="305.8">S</text>
<text class="om" x="247.8" y="302.7">&#937;</text>
<text class="sb" x="253.5" y="303.9">3</text>
<path d="M212.1,311.3 H238.8" stroke="#ff0000" stroke-width="1.4" opacity="0.6"/>
<text class="lg" x="242.2" y="315">I</text>
<text class="om" x="246.8" y="311.9">&#937;</text>
<text class="sb" x="252.5" y="313.1">3</text>
<path d="M212.1,320.3 H238.8" stroke="#00ff00" stroke-width="1.4" opacity="0.6"/>
<text class="lg" x="242.2" y="324">R</text>
<text class="om" x="248" y="320.9">&#937;</text>
<text class="sb" x="253.7" y="322.1">3</text>
<rect x="473.2" y="317.2" width="59.6" height="19.2" fill="#fff" stroke="#4a4a4a" stroke-width="1.15"/>
<path d="M479.3,327 H508.6" stroke="#ff00ff" stroke-width="2"/>
<text x="511.4" y="332.8" style="font-size:10px">u</text>
<text x="516.5" y="327.1" style="font-family:DejaVu Sans,sans-serif;font-size:7.2px;stroke-width:0.1px">&#937;</text>
<text x="522.7" y="331.9" style="font-size:5.8px;stroke-width:0.1px">1</text>
<text x="525.8" y="326.1" style="font-size:6.6px;stroke-width:0.15px">*</text>
</svg>
</body></html>
